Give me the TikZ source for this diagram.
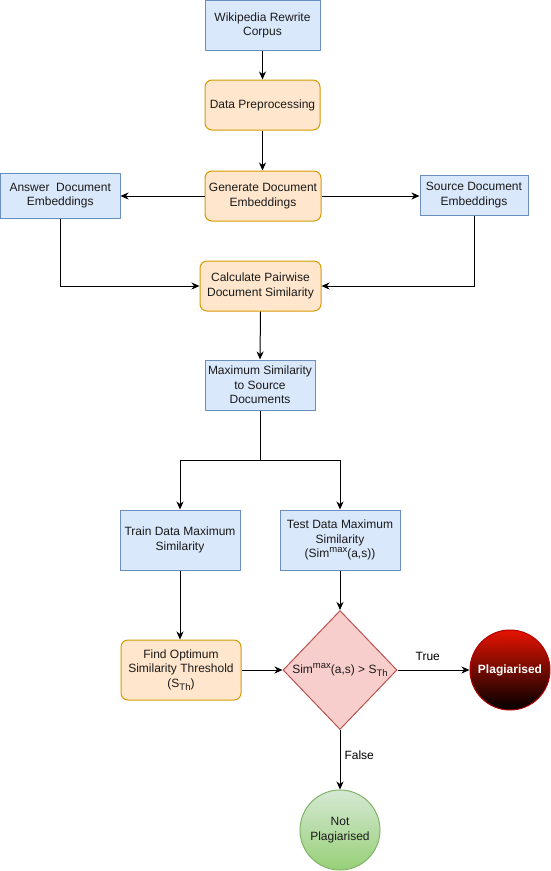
\documentclass[tikz,border=0pt]{standalone}
\usepackage{fontspec}
\setmainfont{Liberation Sans}
\usetikzlibrary{shapes.geometric,arrows.meta}
\definecolor{bluefill}{HTML}{DAE8FC}
\definecolor{bluedraw}{HTML}{6C8EBF}
\definecolor{orangefill}{HTML}{FFE6CC}
\definecolor{orangedraw}{HTML}{D79B00}
\definecolor{redfill}{HTML}{F8CECC}
\definecolor{reddraw}{HTML}{B85450}
\definecolor{plagtop}{HTML}{E51400}
\definecolor{plagdraw}{HTML}{B20000}
\definecolor{greentop}{HTML}{D5E8D4}
\definecolor{greenbot}{HTML}{97D077}
\definecolor{greendraw}{HTML}{82B366}
\definecolor{txt}{HTML}{1A1A1A}
\newcommand\mysup[1]{\raisebox{0.42em}{\fontsize{9.5}{10}\selectfont #1}}
\newcommand\mysub[1]{\raisebox{-0.28em}{\fontsize{9.5}{10}\selectfont #1}}
\begin{document}
\begin{tikzpicture}[x=1pt,y=-1pt,
  every node/.style={font=\fontsize{12}{14.5}\selectfont, text=txt, align=center, inner sep=2pt},
  bluebox/.style={draw=bluedraw, fill=bluefill, line width=1pt, rectangle},
  orangebox/.style={draw=orangedraw, fill=orangefill, line width=1pt, rectangle, rounded corners=7pt},
  decision/.style={draw=reddraw, fill=redfill, line width=1pt, diamond, aspect=1, inner sep=0pt, minimum width=114pt, minimum height=119pt},
  plagnode/.style={circle, draw=plagdraw, line width=1pt, top color=plagtop, bottom color=black, minimum size=80pt, inner sep=0pt, text=white, font=\fontsize{12}{14.5}\selectfont\bfseries},
  notplagnode/.style={circle, draw=greendraw, line width=1pt, top color=greentop, bottom color=greenbot, minimum size=80pt, inner sep=0pt},
  conn/.style={draw=black, line width=1pt, -{Stealth[length=8pt,width=7pt,inset=2.5pt]}},
  edgelabel/.style={inner sep=1pt, text=black}
]
\useasboundingbox (0,0) rectangle (551,871);
\fill[white] (0,0) rectangle (551,871);

\node[bluebox, minimum width=115pt, minimum height=49.5pt] (wiki) at (262.5,25.25) {Wikipedia Rewrite\\Corpus};
\node[orangebox, minimum width=115pt, minimum height=50pt] (prep) at (262.5,105) {Data Preprocessing};
\node[orangebox, minimum width=116pt, minimum height=50pt] (gen) at (263,196) {Generate Document\\Embeddings};
\node[bluebox, minimum width=119.5pt, minimum height=45pt] (answer) at (60.25,195.5) {Answer\ \ Document\\Embeddings};
\node[bluebox, minimum width=108pt, minimum height=40pt] (source) at (474,195) {Source Document\\Embeddings};
\node[orangebox, minimum width=121pt, minimum height=50pt] (calc) at (260.5,286) {Calculate Pairwise\\Document Similarity};
\node[bluebox, minimum width=110pt, minimum height=50pt] (maxsim) at (260,385) {Maximum Similarity\\to Source\\Documents};
\node[bluebox, minimum width=120pt, minimum height=60pt] (train) at (180,540) {Train Data Maximum\\Similarity};
\node[bluebox, minimum width=120pt, minimum height=60pt] (test) at (340,540) {Test Data Maximum\\Similarity\\(Sim\mysup{max}(a,s))};
\node[orangebox, minimum width=120pt, minimum height=60pt] (find) at (181,670) {Find Optimum\\Similarity Threshold\\(S\mysub{Th})};
\node[decision] (dec) at (340,670) {Sim\mysup{max}(a,s) > S\mysub{Th}};
\node[plagnode] (plag) at (510,670) {Plagiarised};
\node[notplagnode] (notplag) at (340,830) {Not\\Plagiarised};

\coordinate (branch) at (260,460);

\draw[conn] (wiki.south) -- (prep.north);
\draw[conn] (prep.south) -- (prep.south |- gen.north);
\draw[conn] (gen.west) -- (gen.west -| answer.east);
\draw[conn] (gen.east) -- (gen.east -| source.west);
\draw[conn] (answer.south) |- (calc.west);
\draw[conn] (source.south) |- (calc.east);
\draw[conn] (calc.south) -- (maxsim.north);
\draw[line width=1pt] (maxsim.south) -- (branch);
\draw[conn] (branch) -| (train.north);
\draw[conn] (branch) -| (test.north);
\draw[conn] (train.south) -- (train.south |- find.north);
\draw[conn] (test.south) -- (dec.north);
\draw[conn] (find.east) -- (dec.west);
\draw[conn] (dec.east) -- (plag.west) node[edgelabel, pos=0.42, above=8pt] (truelbl) {True};
\draw[conn] (dec.south) -- (notplag.north) node[edgelabel, pos=0.42, right=3pt] (falselbl) {False};
\end{tikzpicture}
\end{document}
